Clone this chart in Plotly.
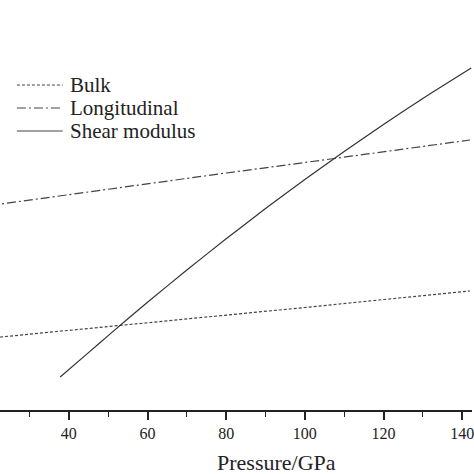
import plotly.graph_objects as go

pressure_lin = [20, 40, 60, 80, 100, 120, 142]
bulk = [144, 159, 175, 190, 205, 221, 238]
longitudinal = [409, 431, 452, 474, 495, 517, 540]

pressure_shear = [37.8, 45, 50, 60, 70, 80, 90, 100, 110, 120, 130, 142.3]
shear = [66, 114.7, 148.8, 215.4, 280, 342.4, 402.8, 461, 517.1, 571.2, 623.1, 684]

names = ["Bulk", "Longitudinal", "Shear modulus"]
dashes = ["3px,2px", "9px,3px,2px,3px", "solid"]

font = "Liberation Serif, Times New Roman, serif"
ink = "#222222"

fig = go.Figure()
fig.add_trace(go.Scatter(x=pressure_lin, y=bulk, mode="lines", name=names[0],
                         line=dict(color="#444444", width=1.2, dash=dashes[0])))
fig.add_trace(go.Scatter(x=pressure_lin, y=longitudinal, mode="lines", name=names[1],
                         line=dict(color="#444444", width=1.2, dash=dashes[1])))
fig.add_trace(go.Scatter(x=pressure_shear, y=shear, mode="lines", name=names[2],
                         line=dict(color="#333333", width=1.2, shape="spline", smoothing=0.6)))

# legend drawn in paper pixels (plot area spans the full width, height 410 px)
H = 410.0
W = 474.0
leg_rows = [85, 108, 131]
for name, dash, yy in zip(names, dashes, leg_rows):
    yp = 1 - yy / H
    fig.add_shape(type="line", xref="paper", yref="paper",
                  x0=17 / W, x1=63 / W, y0=yp, y1=yp,
                  line=dict(color="#444444", width=1.1, dash=dash))
    fig.add_annotation(xref="paper", yref="paper", x=68 / W, y=yp,
                       xanchor="left", yanchor="middle", showarrow=False,
                       text=name, font=dict(size=21, family=font, color=ink))

fig.add_annotation(xref="paper", yref="paper", x=278 / W, y=1 - 463 / H,
                   xanchor="center", yanchor="middle", showarrow=False,
                   text="Pressure/GPa", font=dict(size=22, family=font, color=ink))

fig.update_layout(
    width=474, height=474,
    margin=dict(l=0, r=0, t=0, b=64),
    paper_bgcolor="white", plot_bgcolor="white",
    font=dict(family=font, color=ink),
    showlegend=False,
    xaxis=dict(range=[22.5, 142.5], tickvals=[40, 60, 80, 100, 120, 140],
               showline=True, linecolor=ink, linewidth=1.5,
               ticks="outside", ticklen=8, tickwidth=1.6, tickcolor=ink,
               minor=dict(ticks="outside", ticklen=5, tickwidth=1.3, tickcolor=ink,
                          dtick=10, tick0=30),
               ticklabeloverflow="allow",
               showgrid=False, zeroline=False,
               tickfont=dict(size=16, family=font, color=ink)),
    yaxis=dict(range=[0, 820], visible=False, showgrid=False, zeroline=False),
)

fig.write_html("out.html")
